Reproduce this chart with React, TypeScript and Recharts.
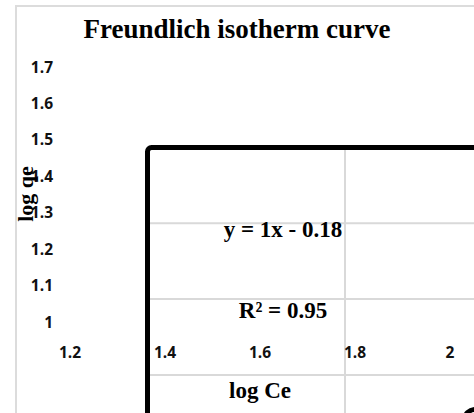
import { ComposedChart, ScatterChart, Scatter, XAxis, YAxis, CartesianGrid, ReferenceArea } from "recharts"

// outer chart: tick values
const logCeTicks = [1.2, 1.4, 1.6, 1.8, 2]
const logQeTicks = [1, 1.1, 1.2, 1.3, 1.4, 1.5, 1.6, 1.7]

// the big framed plot box (only its top-left part is visible)
const boxColumns = [0, 1, 2]
const boxRows = [0, 1, 2, 3, 4]
const cornerMarks = [{ x: 1.66, y: 0.4 }]

const titleText = "Freundlich isotherm curve"
const xTitle = "log Ce"
const yTitle = "log qe"
const equation = "y = 1x - 0.18"
const rSquared = "R\u00b2 = 0.95"

const serif = "'Liberation Serif', 'Times New Roman', serif"
const tickFont = "'Open Sans', sans-serif"

const axisRows = logCeTicks.map((x, i) => ({ x, y: logQeTicks[i] }))

function TickText({ x, y, payload, anchor, dy }: any) {
  return (
    <text
      x={x}
      y={y}
      dy={dy}
      textAnchor={anchor}
      style={{ fill: "#111", fontSize: "15.5px", fontWeight: 700, fontFamily: tickFont }}
    >
      {payload.value}
    </text>
  )
}

export default function App() {
  return (
    <div
      style={{
        position: "absolute",
        left: 0,
        top: 0,
        width: 474,
        height: 413,
        overflow: "hidden",
        background: "#fff",
      }}
    >
      {/* chart area border */}
      <div
        style={{
          position: "absolute",
          left: 14.5,
          top: 5,
          width: 600,
          height: 600,
          border: "2px solid #dcdcdc",
        }}
      />

      {/* framed box with gridlines */}
      <div style={{ position: "absolute", left: 0, top: 0 }}>
        <ScatterChart
          width={600}
          height={500}
          margin={{ top: 147.5, right: 57.5, bottom: 49.3, left: 147.5 }}
        >
          <XAxis type="number" dataKey="x" domain={[0, 2]} ticks={boxColumns} hide />
          <YAxis type="number" dataKey="y" domain={[0, 4]} ticks={boxRows} hide />
          <CartesianGrid stroke="#d9d9d9" strokeWidth={2} />
          <ReferenceArea
            x1={0}
            x2={2}
            y1={0}
            y2={4}
            shape={(p: any) => (
              <rect x={p.x} y={p.y} width={p.width} height={p.height} rx={4} fill="none" stroke="#000" strokeWidth={5} />
            )}
          />
          <Scatter
            data={cornerMarks}
            isAnimationActive={false}
            shape={(p: any) => <circle cx={p.cx} cy={p.cy} r={11} fill="none" stroke="#000" strokeWidth={5} />}
          />
        </ScatterChart>
      </div>

      {/* axis ticks */}
      <div style={{ position: "absolute", left: 0, top: 0 }}>
        <ComposedChart
          width={474}
          height={413}
          data={axisRows}
          margin={{ top: 67, right: 24, bottom: 0, left: 0 }}
        >
          <XAxis
            type="number"
            dataKey="x"
            domain={[1.2, 2]}
            ticks={logCeTicks}
            axisLine={false}
            tickLine={false}
            tickSize={0}
            tickMargin={25}
            height={91}
            tick={(p: any) => <TickText {...p} anchor="middle" dy="0.71em" />}
            interval={0}
          />
          <YAxis
            type="number"
            dataKey="y"
            domain={[1, 1.7]}
            ticks={logQeTicks}
            axisLine={false}
            tickLine={false}
            tickSize={0}
            tickMargin={17}
            width={70}
            tick={(p: any) => <TickText {...p} anchor="end" dy="0.355em" />}
            interval={0}
          />
        </ComposedChart>
      </div>

      {/* titles and trendline label */}
      <svg width={474} height={413} style={{ position: "absolute", left: 0, top: 0 }}>
        <g fontFamily={serif} fontWeight={700} fill="#000" textAnchor="middle">
          <text x={237} y={38} fontSize={27}>
            {titleText}
          </text>
          <text x={260} y={398} fontSize={23}>
            {xTitle}
          </text>
          <text transform="translate(33,194) rotate(-90)" fontSize={22}>
            {yTitle}
          </text>
          <text x={283} y={237} fontSize={23}>
            {equation}
          </text>
          <text x={283} y={318} fontSize={23}>
            {rSquared}
          </text>
        </g>
      </svg>
    </div>
  )
}
